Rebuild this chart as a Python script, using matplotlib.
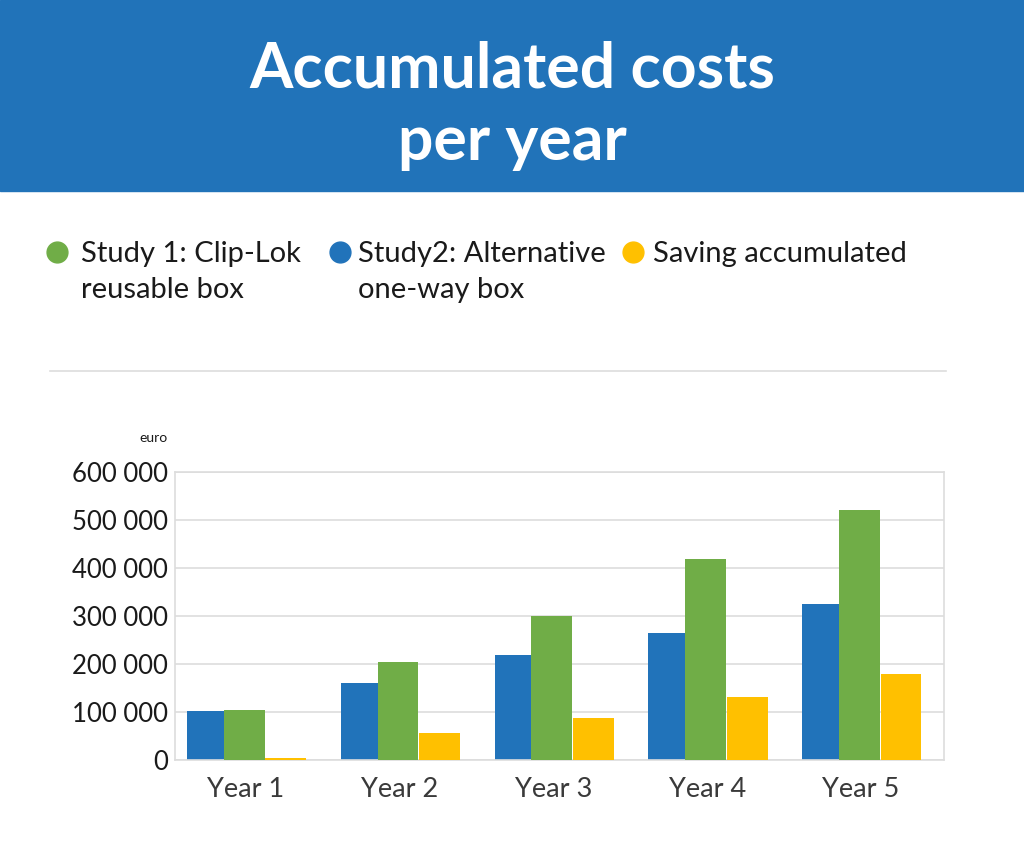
import matplotlib.pyplot as plt
from matplotlib.patches import Rectangle
from matplotlib.lines import Line2D
from matplotlib.ticker import FuncFormatter

plt.rcParams['font.family'] = ['Lato', 'DejaVu Sans']

years = ["Year 1", "Year 2", "Year 3", "Year 4", "Year 5"]
study1_cliplok = [104000, 205000, 300000, 419000, 520000]
study2_oneway = [103000, 160000, 218000, 265000, 326000]
saving = [5000, 57000, 87000, 131000, 180000]
yticks = [0, 100000, 200000, 300000, 400000, 500000, 600000]

BLUE = "#2173ba"
GREEN = "#70ad47"
YELLOW = "#ffc000"
HEADER = "#2173b9"

W, H = 1024, 858
fig = plt.figure(figsize=(W / 100, H / 100), dpi=100)

# header band
fig.patches.append(Rectangle((0, 1 - 191 / H), 1, 191 / H, transform=fig.transFigure,
                             color=HEADER, zorder=0))
fig.text(0.5, 1 - 88 / H, "Accumulated costs", color="white", fontsize=45,
         fontweight="bold", ha="center", va="baseline")
fig.text(0.5, 1 - 160 / H, "per year", color="white", fontsize=45,
         fontweight="bold", ha="center", va="baseline")

# legend
legend_items = [
    (57, 81, GREEN, ["Study 1: Clip-Lok", "reusable box"]),
    (340, 358, BLUE, ["Study2: Alternative", "one-way box"]),
    (633, 653, YELLOW, ["Saving accumulated"]),
]
for dot_x, text_x, col, lines in legend_items:
    fig.add_artist(Line2D([dot_x / W], [1 - 252 / H], transform=fig.transFigure,
                          marker="o", markersize=15, color=col, linestyle="none"))
    for k, line in enumerate(lines):
        fig.text(text_x / W, 1 - (262 + 36 * k) / H, line, fontsize=21,
                 color="#1a1a1a", ha="left", va="baseline")

# separator
fig.add_artist(Line2D([50 / W, 946 / W], [1 - 371 / H, 1 - 371 / H],
                      transform=fig.transFigure, color="#dddddd", linewidth=1.2))

# chart
ax = fig.add_axes([175 / W, 98 / H, (944 - 175) / W, (760 - 472) / H])
x = list(range(len(years)))
w = 0.265
ax.bar([i - 0.29 for i in x], study2_oneway, width=w, color=BLUE, zorder=2)
ax.bar([i - 0.05 for i in x], study1_cliplok, width=w, color=GREEN, zorder=3)
ax.bar([i + 0.22 for i in x], saving, width=w, color=YELLOW, zorder=3)

ax.set_xlim(-0.5, len(years) - 0.5)
ax.set_ylim(0, 600000)
ax.set_yticks(yticks)
ax.yaxis.set_major_formatter(FuncFormatter(lambda v, p: f"{int(v):,}".replace(",", " ")))
ax.set_xticks([i - 0.04 for i in x])
ax.set_xticklabels(years, fontsize=19.5, color="#3a3a3a")
ax.tick_params(axis="y", labelsize=18.5, colors="#1a1a1a", length=0, pad=5)
ax.tick_params(axis="x", length=0, pad=12)
ax.grid(axis="y", color="#dddddd", linewidth=1.2, zorder=0)
for s in ax.spines.values():
    s.set_color("#dddddd")
    s.set_linewidth(1.2)

fig.text(168 / W, 1 - 438 / H, "euro", fontsize=10, color="#1a1a1a",
         ha="right", va="center")

fig.savefig("out.png", dpi=100)
